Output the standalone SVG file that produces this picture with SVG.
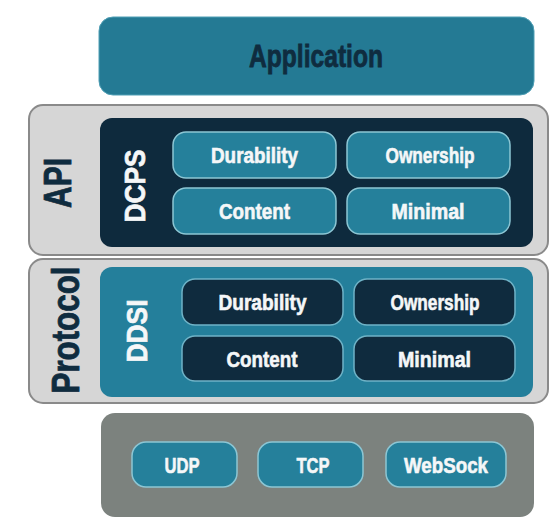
<svg xmlns="http://www.w3.org/2000/svg" width="558" height="525" viewBox="0 0 558 525">
<style>
text{font-family:"Liberation Sans","Arial",sans-serif;font-weight:bold;text-anchor:middle}
.pill{fill:#25809b;stroke:#8cc6d4;stroke-width:1.5}
.dpill{fill:#0f2b3e;stroke:#6fb3c7;stroke-width:1.5}
.pt{fill:#f5f7f8;stroke:#f5f7f8;stroke-width:0.6;font-size:22px}
.lay{fill:#d6d6d6;stroke:#8a8a8a;stroke-width:2}
.lbl{fill:#0f2c3f;stroke:#0f2c3f;stroke-width:0.8;font-size:38px}
.wl{fill:#f5f7f8;stroke:#f5f7f8;stroke-width:0.7;font-size:29px}
</style>
<rect width="558" height="525" fill="#ffffff"/>
<g id="application">
<rect x="99" y="17" width="435" height="78" rx="14" fill="#247a94" stroke="#4f9fb5" stroke-width="1"/>
<text x="316" y="67" font-size="31" fill="#0f2c3f" stroke="#0f2c3f" stroke-width="0.8" textLength="134" lengthAdjust="spacingAndGlyphs">Application</text>
</g>
<g id="api">
<rect class="lay" x="29" y="105" width="519" height="150" rx="14"/>
<text class="lbl" transform="translate(71,183) rotate(-90)" textLength="50" lengthAdjust="spacingAndGlyphs">API</text>
</g>
<g id="dcps">
<rect x="100" y="118" width="433" height="129" rx="12" fill="#0e2a3d"/>
<text class="wl" transform="translate(145,186) rotate(-90)" textLength="73" lengthAdjust="spacingAndGlyphs">DCPS</text>
</g>
<g id="dcps-durability"><rect class="pill" x="173" y="132" width="163" height="46" rx="13"/><text class="pt" x="254.5" y="163" textLength="87" lengthAdjust="spacingAndGlyphs">Durability</text></g>
<g id="dcps-ownership"><rect class="pill" x="347" y="132" width="163" height="46" rx="13"/><text class="pt" x="430" y="163" textLength="89" lengthAdjust="spacingAndGlyphs">Ownership</text></g>
<g id="dcps-content"><rect class="pill" x="173" y="188" width="163" height="46" rx="13"/><text class="pt" x="254.5" y="219" textLength="71" lengthAdjust="spacingAndGlyphs">Content</text></g>
<g id="dcps-minimal"><rect class="pill" x="347" y="188" width="163" height="46" rx="13"/><text class="pt" x="428" y="219" textLength="73" lengthAdjust="spacingAndGlyphs">Minimal</text></g>
<g id="protocol">
<rect class="lay" x="29" y="259" width="519" height="144" rx="14"/>
<text class="lbl" transform="translate(79,330) rotate(-90)" textLength="127" lengthAdjust="spacingAndGlyphs">Protocol</text>
</g>
<g id="ddsi">
<rect x="100" y="267" width="433" height="130" rx="12" fill="#247f9b"/>
<text class="wl" transform="translate(147,331) rotate(-90)" font-size="30" textLength="63" lengthAdjust="spacingAndGlyphs">DDSI</text>
</g>
<g id="ddsi-durability"><rect class="dpill" x="182" y="279" width="161" height="46" rx="13"/><text class="pt" x="262.5" y="310" textLength="88" lengthAdjust="spacingAndGlyphs">Durability</text></g>
<g id="ddsi-ownership"><rect class="dpill" x="354" y="279" width="161" height="46" rx="13"/><text class="pt" x="435" y="310" textLength="89" lengthAdjust="spacingAndGlyphs">Ownership</text></g>
<g id="ddsi-content"><rect class="dpill" x="182" y="336" width="161" height="45" rx="13"/><text class="pt" x="262" y="366.5" textLength="71" lengthAdjust="spacingAndGlyphs">Content</text></g>
<g id="ddsi-minimal"><rect class="dpill" x="354" y="336" width="161" height="45" rx="13"/><text class="pt" x="434.5" y="366.5" textLength="73" lengthAdjust="spacingAndGlyphs">Minimal</text></g>
<g id="transport">
<rect x="101" y="413" width="433" height="104" rx="14" fill="#7c827e"/>
</g>
<g id="udp"><rect class="pill" x="132" y="442" width="105" height="45" rx="14"/><text class="pt" x="182" y="472.5" textLength="35" lengthAdjust="spacingAndGlyphs">UDP</text></g>
<g id="tcp"><rect class="pill" x="258" y="442" width="105" height="45" rx="14"/><text class="pt" x="313" y="472.5" textLength="33" lengthAdjust="spacingAndGlyphs">TCP</text></g>
<g id="websock"><rect class="pill" x="386" y="442" width="120" height="45" rx="14"/><text class="pt" x="446" y="472.5" textLength="84" lengthAdjust="spacingAndGlyphs">WebSock</text></g>
<g id="connectors"/>
</svg>
